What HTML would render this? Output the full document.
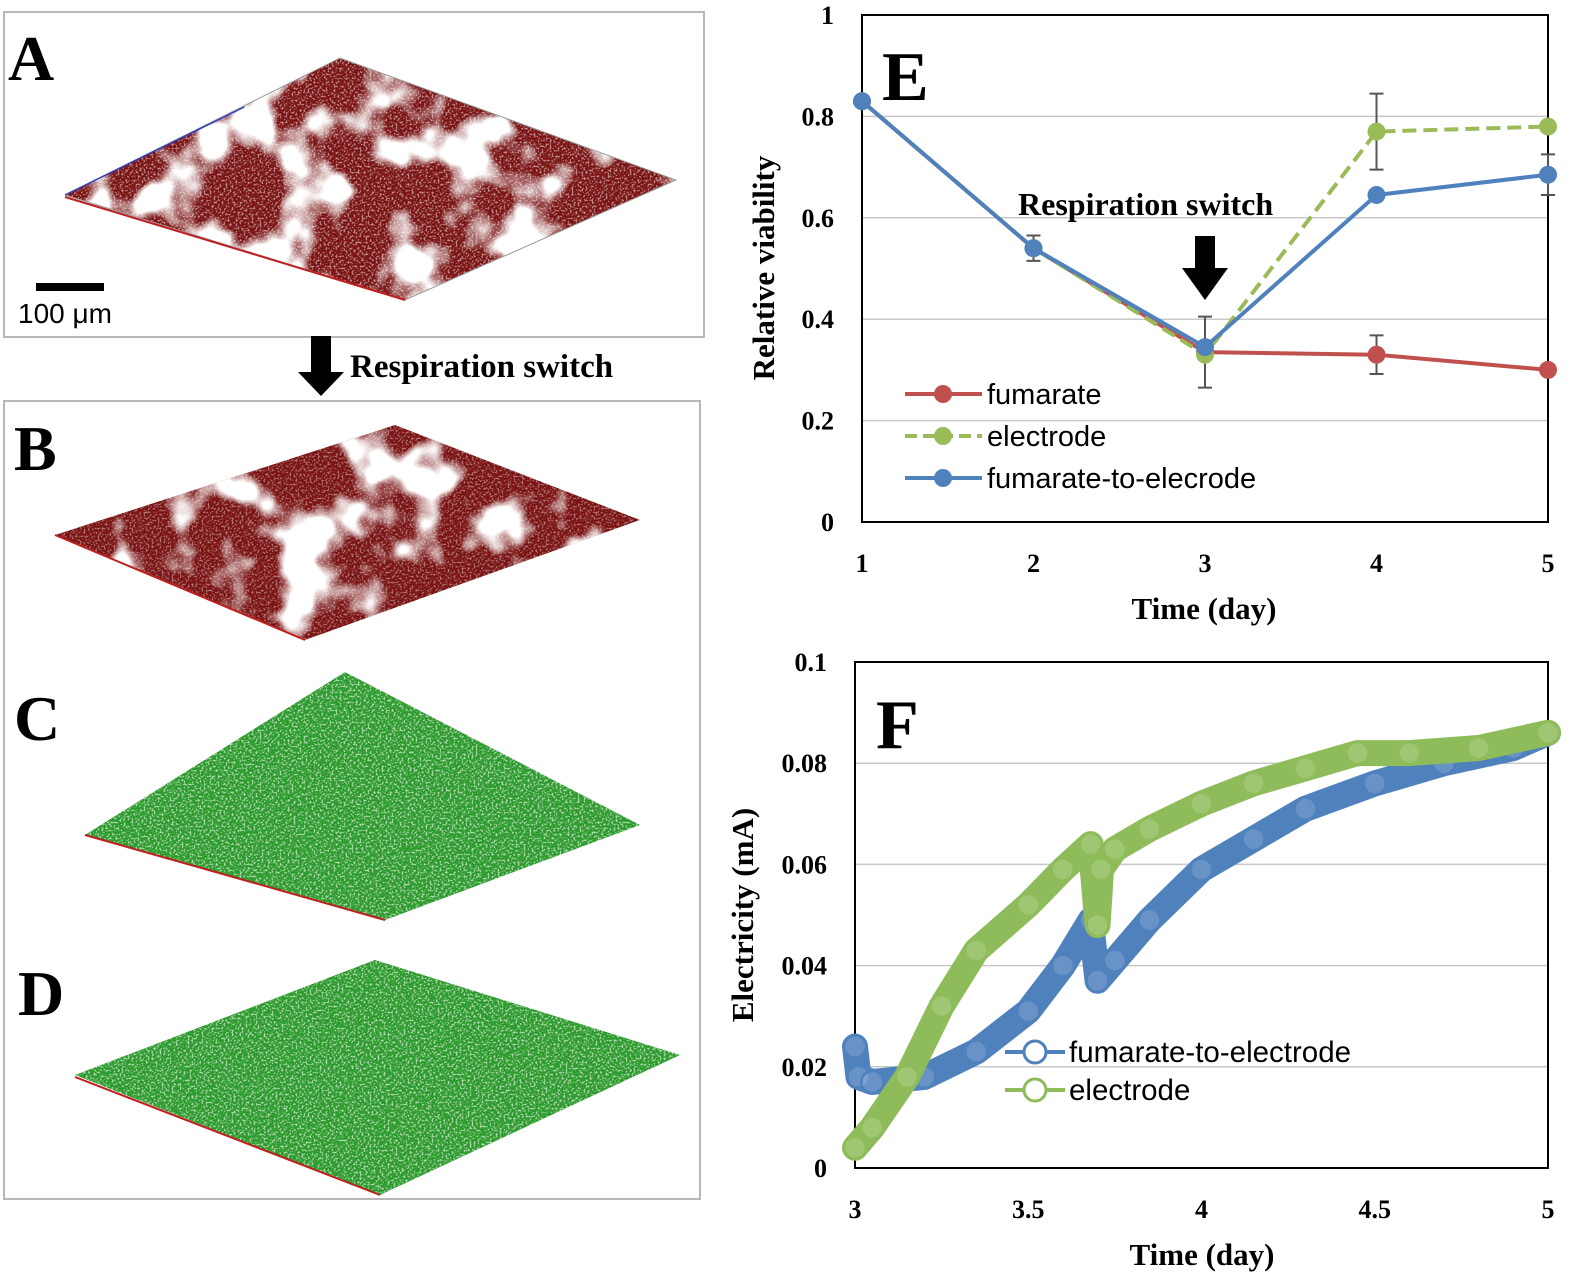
<!DOCTYPE html>
<html><head><meta charset="utf-8">
<style>
body{margin:0;background:#fff;}
svg{display:block;font-family:"Liberation Serif",serif;}
</style></head>
<body>
<svg id="fig" width="1575" height="1283" viewBox="0 0 1575 1283" xmlns="http://www.w3.org/2000/svg">
<defs>
  <filter id="holes" x="0" y="0" width="100%" height="100%">
    <feTurbulence type="fractalNoise" baseFrequency="0.018" numOctaves="3" seed="4" result="n"/>
    <feColorMatrix in="n" type="matrix" values="0 0 0 0 1  0 0 0 0 1  0 0 0 0 1  -6 0 0 0 3.1" result="w"/>
    <feComposite in="w" in2="SourceGraphic" operator="in"/>
  </filter>
  <filter id="holes2" x="0" y="0" width="100%" height="100%">
    <feTurbulence type="fractalNoise" baseFrequency="0.5" numOctaves="1" seed="9" result="n"/>
    <feColorMatrix in="n" type="matrix" values="0 0 0 0 1  0 0 0 0 1  0 0 0 0 1  -5 0 0 0 2.6" result="w"/>
    <feComposite in="w" in2="SourceGraphic" operator="in"/>
  </filter>
</defs>

<g>
  <rect x="4" y="12" width="700" height="325" fill="none" stroke="#b8b8b8" stroke-width="2"/>
  <polygon points="65,195 340,58 676,180 405,300" fill="#7a1212"/>
  <polygon points="65,195 340,58 676,180 405,300" fill="#7a1212" filter="url(#holes)"/>
  <polygon points="65,195 340,58 676,180 405,300" fill="#7a1212" filter="url(#holes2)" opacity="0.5"/>
  <polyline points="65,195 340,58 676,180 405,300 65,195" fill="none" stroke="#999" stroke-width="1"/>
  <line x1="65" y1="197" x2="405" y2="300" stroke="#c02020" stroke-width="2"/>
  <line x1="65" y1="195" x2="340" y2="60" stroke="#3040c0" stroke-width="1.5" stroke-dasharray="200,500"/>
  <text x="8" y="80" font-size="64" font-weight="bold">A</text>
  <rect x="36" y="283" width="68" height="8" fill="#000"/>
  <text x="18" y="323" font-size="28" font-family="Liberation Sans, sans-serif">100 μm</text>
</g>
<polygon points="311,336 331,336 331,372 344,372 321,396 298,372 311,372" fill="#000"/>
<text x="350" y="377" font-size="33" font-weight="bold">Respiration switch</text>

<g>
  <rect x="4" y="401" width="696" height="798" fill="none" stroke="#b8b8b8" stroke-width="2"/>
  <polygon points="55,535 395,425 640,520 305,640" fill="#7a1212"/>
  <polygon points="55,535 395,425 640,520 305,640" fill="#7a1212" filter="url(#holes)"/>
  <polygon points="55,535 395,425 640,520 305,640" fill="#7a1212" filter="url(#holes2)" opacity="0.4"/>
  <line x1="55" y1="535" x2="305" y2="640" stroke="#c02020" stroke-width="2"/>
  <text x="14" y="470" font-size="64" font-weight="bold">B</text>

  <polygon points="85,835 345,672 640,825 385,920" fill="#2a9a2a"/>
  <polygon points="85,835 345,672 640,825 385,920" fill="#1a6a1a" filter="url(#holes2)" opacity="0.6"/>
  <line x1="85" y1="835" x2="385" y2="920" stroke="#c02020" stroke-width="2"/>
  <text x="14" y="740" font-size="64" font-weight="bold">C</text>

  <polygon points="75,1075 375,960 680,1055 380,1195" fill="#2a9a2a"/>
  <polygon points="75,1075 375,960 680,1055 380,1195" fill="#1a6a1a" filter="url(#holes2)" opacity="0.6"/>
  <line x1="75" y1="1077" x2="380" y2="1195" stroke="#c02020" stroke-width="2"/>
  <text x="18" y="1015" font-size="64" font-weight="bold">D</text>
</g>

<g id="chartE"></g>
<g id="chartF"></g>
</svg>
<script>
const NS='http://www.w3.org/2000/svg';
function mk(parent,tag,attrs,text){const e=document.createElementNS(NS,tag);for(const k in attrs)e.setAttribute(k,attrs[k]);if(text!==undefined)e.textContent=text;parent.appendChild(e);return e;}

const eDays=[1,2,3,4,5];
const eFumarate=[0.83,0.54,0.335,0.33,0.30];
const eElectrode=[0.83,0.54,0.33,0.77,0.78];
const eFte=[0.83,0.54,0.345,0.645,0.685];
const eErrFumarate=[0,0.025,0.07,0.038,0];
const eErrElectrode=[0,0,0,0.075,0];
const eErrFte=[0,0,0,0,0.04];
const eYTicks=[0,0.2,0.4,0.6,0.8,1];
const eYTickLabels=['0','0.2','0.4','0.6','0.8','1'];

const fXTicks=[3,3.5,4,4.5,5];
const fXTickLabels=['3','3.5','4','4.5','5'];
const fYTicks=[0,0.02,0.04,0.06,0.08,0.1];
const fYTickLabels=['0','0.02','0.04','0.06','0.08','0.1'];
const fFteT=[3.0,3.01,3.05,3.2,3.35,3.5,3.6,3.68,3.7,3.75,3.85,4.0,4.15,4.3,4.5,4.7,4.9,5.0];
const fFteV=[0.024,0.018,0.017,0.018,0.023,0.031,0.040,0.049,0.037,0.041,0.049,0.059,0.065,0.071,0.076,0.080,0.083,0.086];
const fElT=[3.0,3.05,3.15,3.25,3.35,3.5,3.6,3.68,3.7,3.71,3.75,3.85,4.0,4.15,4.3,4.45,4.6,4.8,5.0];
const fElV=[0.004,0.008,0.018,0.032,0.043,0.052,0.059,0.064,0.048,0.059,0.063,0.067,0.072,0.076,0.079,0.082,0.082,0.083,0.086];

(function(){
 const g=document.getElementById('chartE');
 const L=862,R=1548,T=15,B=522;
 const x=d=>L+(d-1)/(4)*(R-L);
 const y=v=>B-v*(B-T);
 for(const t of eYTicks){ if(t>0&&t<1){const gl=mk(g,'line',{x1:L,x2:R,y1:y(t),y2:y(t),stroke:'#c8c8c8','stroke-width':1.5});

}}
 const fr=mk(g,'rect',{x:L,y:T,width:R-L,height:B-T,fill:'none',stroke:'#000','stroke-width':2});


 eYTicks.forEach((t,i)=>{const tl=mk(g,'text',{x:L-28,y:y(t)+9,'font-size':26,'font-weight':'bold','text-anchor':'end'},eYTickLabels[i]);

});
 eDays.forEach(d=>{const tl=mk(g,'text',{x:x(d),y:B+50,'font-size':26,'font-weight':'bold','text-anchor':'middle'},String(d));

});
 const xt=mk(g,'text',{x:1204,y:619,'font-size':31,'font-weight':'bold','text-anchor':'middle'},'Time (day)');


 const yt=mk(g,'text',{x:0,y:0,'font-size':31,'font-weight':'bold','text-anchor':'middle',transform:'translate(774,268) rotate(-90)'},'Relative viability');


 function errs(vals,errsA){vals.forEach((v,i)=>{const e=errsA[i];if(!e)return;const X=x(eDays[i]);
  const b=mk(g,'path',{d:`M${X},${y(v-e)}V${y(v+e)}M${X-7},${y(v-e)}H${X+7}M${X-7},${y(v+e)}H${X+7}`,stroke:'#555','stroke-width':2,fill:'none'});

});}
 errs(eFumarate,eErrFumarate);errs(eElectrode,eErrElectrode);errs(eFte,eErrFte);
 function series(vals,color,dash,name){
  const pts=vals.map((v,i)=>x(eDays[i])+','+y(v)).join(' ');
  const l=mk(g,'polyline',{points:pts,fill:'none',stroke:color,'stroke-width':4,'stroke-dasharray':dash});


  vals.forEach((v,i)=>{const c=mk(g,'circle',{cx:x(eDays[i]),cy:y(v),r:9,fill:color});

});
 }
 series(eFumarate,'#c0504d','none','fumarate');
 series(eElectrode,'#9bbb59','14,7','electrode');
 series(eFte,'#4f81bd','none','fumarate-to-electrode');
 const lab=mk(g,'text',{x:1018,y:215,'font-size':32,'font-weight':'bold'},'Respiration switch');


 const ar=mk(g,'polygon',{points:'1195,236 1215,236 1215,268 1228,268 1205,300 1182,268 1195,268',fill:'#000'});


 const leg=[['fumarate','#c0504d','none',394],['electrode','#9bbb59','12,6',436],['fumarate-to-elecrode','#4f81bd','none',478]];
 leg.forEach(([t,c,d,yy])=>{
  const ll=mk(g,'line',{x1:905,x2:982,y1:yy,y2:yy,stroke:c,'stroke-width':4,'stroke-dasharray':d});


  mk(g,'circle',{cx:943,cy:yy,r:9,fill:c});
  const lt=mk(g,'text',{x:987,y:yy+10,'font-size':29,'font-family':'Liberation Sans, sans-serif'},t);


 });
 const pl=mk(g,'text',{x:882,y:100,'font-size':70,'font-weight':'bold'},'E');


})();

(function(){
 const g=document.getElementById('chartF');
 const L=855,R=1548,T=662,B=1168;
 const x=d=>L+(d-3)/2*(R-L);
 const y=v=>B-v/0.1*(B-T);
 fYTicks.forEach(t=>{ if(t>0&&t<0.1){const gl=mk(g,'line',{x1:L,x2:R,y1:y(t),y2:y(t),stroke:'#c8c8c8','stroke-width':1.5});

}});
 const fr=mk(g,'rect',{x:L,y:T,width:R-L,height:B-T,fill:'none',stroke:'#000','stroke-width':2});


 fYTicks.forEach((t,i)=>{const tl=mk(g,'text',{x:L-28,y:y(t)+9,'font-size':26,'font-weight':'bold','text-anchor':'end'},fYTickLabels[i]);

});
 fXTicks.forEach((t,i)=>{const tl=mk(g,'text',{x:x(t),y:B+50,'font-size':26,'font-weight':'bold','text-anchor':'middle'},fXTickLabels[i]);

});
 const xt=mk(g,'text',{x:1202,y:1265,'font-size':31,'font-weight':'bold','text-anchor':'middle'},'Time (day)');


 const yt=mk(g,'text',{x:0,y:0,'font-size':31,'font-weight':'bold','text-anchor':'middle',transform:'translate(753,915) rotate(-90)'},'Electricity (mA)');


 function series(ts,vs,color,name){
  const pts=ts.map((t,i)=>x(t)+','+y(vs[i])).join(' ');
  const l=mk(g,'polyline',{points:pts,fill:'none',stroke:color,'stroke-width':26,'stroke-linejoin':'round','stroke-linecap':'round'});


  ts.forEach((t,i)=>{const c=mk(g,'circle',{cx:x(t),cy:y(vs[i]),r:11,fill:'#fff',stroke:color,'stroke-width':2.5,'fill-opacity':0.15});

});
 }
 series(fFteT,fFteV,'#4f81bd','fumarate-to-electrode');
 series(fElT,fElV,'#8fbc5a','electrode');
 const leg=[['fumarate-to-electrode','#4f81bd',1052],['electrode','#8fbc5a',1090]];
 leg.forEach(([t,c,yy])=>{
  const ll=mk(g,'line',{x1:1005,x2:1065,y1:yy,y2:yy,stroke:c,'stroke-width':4});


  mk(g,'circle',{cx:1035,cy:yy,r:11,fill:'#fff',stroke:c,'stroke-width':3});
  const lt=mk(g,'text',{x:1069,y:yy+10,'font-size':29.5,'font-family':'Liberation Sans, sans-serif'},t);


 });
 const pl=mk(g,'text',{x:876,y:748,'font-size':70,'font-weight':'bold'},'F');


})();
</script>
</body></html>
